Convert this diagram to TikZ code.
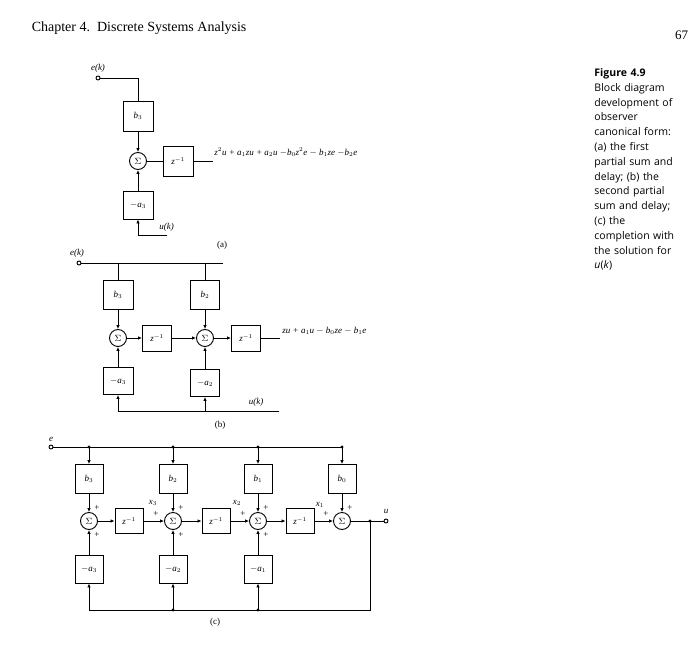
\documentclass[tikz,border=0pt]{standalone}
\usepackage{fontspec}
\setmainfont{Liberation Serif}
\newfontfamily\capfont{Open Sans}
\usetikzlibrary{arrows.meta}
\begin{document}
\begin{tikzpicture}[x=1pt,y=-1pt,line width=0.9pt,
  blk/.style={draw,minimum width=28pt,minimum height=28pt,inner sep=0pt,font=\fontsize{9}{10}\selectfont\itshape},
  sm/.style={draw,circle,minimum size=17pt,inner sep=0pt,font=\fontsize{9}{10}\selectfont},
  term/.style={draw,circle,minimum size=4pt,inner sep=0pt,fill=white},
  lab/.style={font=\fontsize{9}{10}\selectfont\itshape,inner sep=1pt},
  pl/.style={font=\fontsize{9}{10}\selectfont,inner sep=0pt},
  ar/.style={-{Latex[length=4pt,width=3.5pt]}}]
\useasboundingbox (0,0) rectangle (700,652);
\node[anchor=west,font=\fontsize{14}{16}\selectfont] (chap) at (28,28) {Chapter 4.\ \ Discrete Systems Analysis};
\node[anchor=east,font=\fontsize{13}{15}\selectfont] (pg) at (692,35) {67};
\node[anchor=north west,align=left,text width=100pt,inner sep=0pt,font=\capfont\fontsize{10.5}{14.8}\selectfont] (cap) at (594,68)
 {\textbf{Figure 4.9}\\Block diagram\\development of\\observer\\canonical form:\\(a) the first\\partial sum and\\delay; (b) the\\second partial\\sum and delay;\\(c) the\\completion with\\the solution for\\\textit{u}(\textit{k})};
% (a)
\node[term] (ae) at (98,78) {};
\node[lab,anchor=south] (ael) at (98,74) {e(k)};
\node[blk,minimum width=30pt,minimum height=30pt] (ab3) at (138,116) {b$_3$};
\node[sm] (as) at (138,161) {$\Sigma$};
\node[blk,minimum width=30pt,minimum height=30pt] (az) at (178,161) {z$^{-1}$};
\node[blk,minimum width=30pt,minimum height=28pt] (aa3) at (138,205) {$-$a$_3$};
\coordinate (aout) at (213,161);
\coordinate (au) at (167,235);
\node[lab,anchor=south west] (aul) at (158,233) {u(k)};
\node[lab,anchor=west] (atx) at (213,152) {z$^2$u + a$_1$zu + a$_2$u $-$b$_0$z$^2$e $-$ b$_1$ze $-$b$_2$e};
\node[pl] (acap) at (222,245) {(a)};
\draw (ae) -| (ab3);
\draw[ar] (ab3) -- (as);
\draw (as) -- (az);
\draw (az) -- (aout);
\draw[ar] (aa3) -- (as);
\draw[ar] (au) -| (aa3);
% (b)
\node[term] (be) at (79,263) {};
\node[lab,anchor=south] (bel) at (77,259) {e(k)};
\coordinate (bend) at (223,263);
\node[blk,minimum width=30pt,minimum height=29pt] (bb3) at (118,295) {b$_3$};
\node[blk,minimum width=29pt,minimum height=29pt] (bb2) at (205,295) {b$_2$};
\node[sm] (bs1) at (118,338) {$\Sigma$};
\node[sm] (bs2) at (205,338) {$\Sigma$};
\node[blk,minimum width=29pt,minimum height=26pt] (bz1) at (157,338) {z$^{-1}$};
\node[blk,minimum width=29pt,minimum height=26pt] (bz2) at (246,338) {z$^{-1}$};
\node[blk,minimum width=30pt,minimum height=27pt] (ba3) at (118,381) {$-$a$_3$};
\node[blk,minimum width=29pt,minimum height=27pt] (ba2) at (205,383) {$-$a$_2$};
\coordinate (bout) at (280,338);
\node[lab,anchor=west] (btx) at (281,331) {zu + a$_1$u $-$ b$_0$ze $-$ b$_1$e};
\coordinate (bu) at (279,411);
\node[lab] (bul) at (256,402) {u(k)};
\node[pl] (bcap) at (220,425) {(b)};
\draw (be) -- (bend);
\draw (bb3.north) -- (bb3.north |- be);
\draw (bb2.north) -- (bb2.north |- be);
\draw[ar] (bb3) -- (bs1);
\draw[ar] (bb2) -- (bs2);
\draw[ar] (bs1) -- (bz1);
\draw[ar] (bz1) -- (bs2);
\draw[ar] (bs2) -- (bz2);
\draw (bz2) -- (bout);
\draw[ar] (ba3) -- (bs1);
\draw[ar] (ba2) -- (bs2);
\draw[ar] (bu) -| (ba3);
\draw[ar] (ba2.south |- bu) -- (ba2);
% (c)
\node[term] (ce) at (51,447) {};
\node[lab,anchor=south] (cel) at (51,443) {e};
\foreach \i/\x/\b in {1/89/3,2/173/2,3/258/1,4/342/0}{
  \node[blk,minimum width=28pt,minimum height=29pt] (cb\i) at (\x,479) {b$_\b$};
  \node[sm] (cs\i) at (\x,521) {$\Sigma$};
  \fill (\x,447) circle (1.6pt);
  \draw[ar] (\x,447) -- (cb\i);
  \draw[ar] (cb\i) -- (cs\i);
  \node[pl] at (\x+8,508) {+};
}
\foreach \i/\x/\a in {1/89/3,2/173/2,3/258/1}{
  \node[blk,minimum width=28pt,minimum height=28pt] (ca\i) at (\x,569) {$-$a$_\a$};
  \draw[ar] (ca\i) -- (cs\i);
  \node[pl] at (\x+8,535) {+};
}
\foreach \i/\x in {1/129,2/216,3/300}{
  \node[blk,minimum width=28pt,minimum height=25pt] (cz\i) at (\x,521) {z$^{-1}$};
}
\draw (ce) -- (342,447);
\draw[ar] (cs1) -- (cz1); \draw[ar] (cz1) -- (cs2);
\draw[ar] (cs2) -- (cz2); \draw[ar] (cz2) -- (cs3);
\draw[ar] (cs3) -- (cz3); \draw[ar] (cz3) -- (cs4);
\foreach \x in {156,243,326}{\node[pl] at (\x,514) {+};}
\node[lab] (cx3) at (153,503) {x$_3$};
\node[lab] (cx2) at (237,503) {x$_2$};
\node[lab] (cx1) at (320,505) {x$_1$};
\node[term] (cu) at (386,521) {};
\node[lab,anchor=south] (cul) at (386,515) {u};
\coordinate (cfb) at (370,521);
\coordinate (cbot) at (370,610);
\draw (cs4) -- (cu);
\fill (cfb) circle (1.6pt);
\draw (cfb) -- (cbot) -- (89,610);
\draw[ar] (89,610) -- (ca1);
\draw[ar] (173,610) -- (ca2);
\draw[ar] (258,610) -- (ca3);
\fill (173,610) circle (1.6pt);
\fill (258,610) circle (1.6pt);
\node[pl] (ccap) at (215,622) {(c)};
\end{tikzpicture}
\end{document}
